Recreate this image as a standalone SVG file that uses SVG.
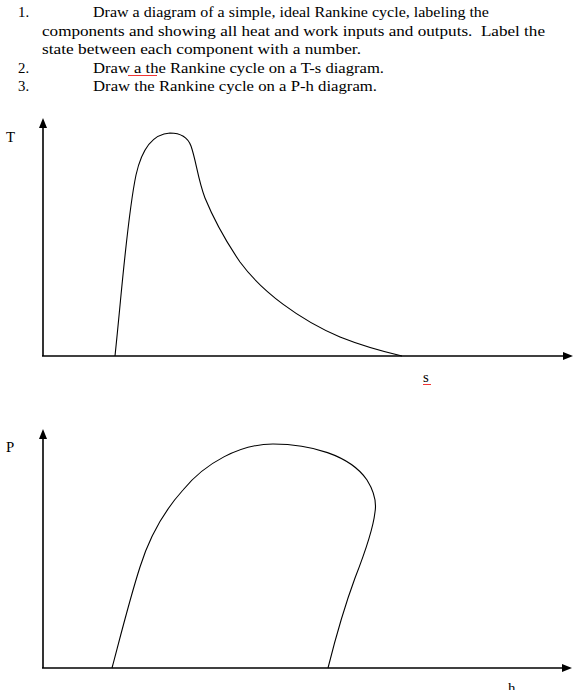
<svg xmlns="http://www.w3.org/2000/svg" width="576" height="690" viewBox="0 0 576 690">
<style>
text{font-family:"Liberation Serif","DejaVu Serif",serif;font-size:14.8px;fill:#000}
.ax{stroke:#000;stroke-width:1.6;fill:none}
.cv{stroke:#000;stroke-width:1.1;fill:none}
.sq{stroke:#e00;stroke-width:0.8;fill:none}
</style>
<defs>
<marker id="ah" markerUnits="userSpaceOnUse" markerWidth="10" markerHeight="10" viewBox="0 0 10 10" refX="2" refY="5" orient="auto">
<path d="M0,1 L10,5 L0,9 Z" fill="#000"/>
</marker>
</defs>
<rect width="576" height="690" fill="#fff"/>
<g id="instructions">
<text x="18" y="17">1.</text>
<text x="93" y="17" textLength="396" lengthAdjust="spacingAndGlyphs">Draw a diagram of a simple, ideal Rankine cycle, labeling the</text>
<text x="42" y="36" textLength="503" lengthAdjust="spacingAndGlyphs" xml:space="preserve">components and showing all heat and work inputs and outputs.  Label the</text>
<text x="42" y="54" textLength="319" lengthAdjust="spacingAndGlyphs">state between each component with a number.</text>
<text x="18" y="73">2.</text>
<text x="93" y="73" textLength="291" lengthAdjust="spacingAndGlyphs">Draw a the Rankine cycle on a T-s diagram.</text>
<path class="sq" d="M128,76 l1,-1 l1,1 l1,-1 l1,1 l1,-1 l1,1 l1,-1 l1,1 l1,-1 l1,1 l1,-1 l1,1 l1,-1 l1,1 l1,-1 l1,1 l1,-1 l1,1 l1,-1 l1,1 l1,-1 l1,1 l1,-1 l1,1 l1,-1 l1,1 l1,-1 l1,1 l1,-1"/>
<text x="18" y="91">3.</text>
<text x="93" y="91" textLength="284" lengthAdjust="spacingAndGlyphs">Draw the Rankine cycle on a P-h diagram.</text>
</g>
<g id="ts-diagram">
<g id="ts-axes">
<line class="ax" x1="43" y1="356" x2="43" y2="126" marker-end="url(#ah)"/>
<line class="ax" x1="42" y1="356" x2="565" y2="356" marker-end="url(#ah)"/>
<text x="6" y="142">T</text>
<text x="423" y="382">s</text>
<path class="sq" d="M423,385 l1,-1 l1,1 l1,-1 l1,1 l1,-1 l1,1 l1,-1 l1,1"/>
</g>
<path id="ts-dome" class="cv" d="M115,356 C122,290 127,218 136,175 C142,148 153,134 170,133 C182,133 188,138 191,146 C196,160 198,180 205,198 C212,215 225,240 240,262 C262,292 300,320 340,337 C365,347 385,352 402,356"/>
</g>
<g id="ph-diagram">
<g id="ph-axes">
<line class="ax" x1="43" y1="668" x2="43" y2="437" marker-end="url(#ah)"/>
<line class="ax" x1="42" y1="668" x2="564" y2="668" marker-end="url(#ah)"/>
<text x="6" y="452">P</text>
<text x="508" y="693">h</text>
</g>
<path id="ph-dome" class="cv" d="M112,668 C120,638 130,598 140,567 C150,535 165,510 183,490 C205,463 240,444 273,444 C310,444 350,455 367,480 C372,488 377,500 375,512 C373,530 364,555 355,578 C345,605 335,640 328,668"/>
</g>
</svg>
